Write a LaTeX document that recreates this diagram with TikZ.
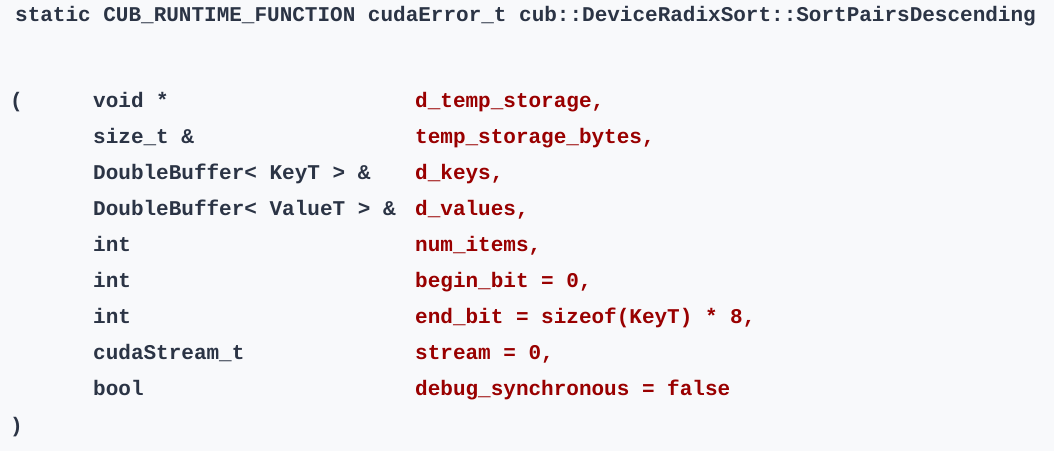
\documentclass[tikz,border=0pt]{standalone}
\usepackage{fontspec}
\setmonofont{Liberation Mono}
\definecolor{bg}{HTML}{F8F9FB}
\definecolor{txt}{HTML}{2B3445}
\definecolor{par}{HTML}{990000}
\begin{document}
\begin{tikzpicture}[x=1pt,y=-1pt,
  t/.style={anchor=base west,inner sep=0pt,font=\ttfamily\bfseries\fontsize{21}{21}\selectfont,text=txt},
  p/.style={t,text=par}]
\fill[bg] (0,0) rectangle (1054,451);
\useasboundingbox (0,0) rectangle (1054,451);
\node[t] (h) at (15,21) {static CUB\_RUNTIME\_FUNCTION cudaError\_t cub::DeviceRadixSort::SortPairsDescending};
\node[t] (lp) at (10,107) {(};
\node[t] (rp) at (10,432) {)};
\foreach \ty/\pn [count=\i] in {void */d\_temp\_storage{,},size\_t \&/temp\_storage\_bytes{,},DoubleBuffer< KeyT > \&/d\_keys{,},DoubleBuffer< ValueT > \&/d\_values{,},int/num\_items{,},int/begin\_bit = 0{,},int/end\_bit = sizeof(KeyT) * 8{,},cudaStream\_t/stream = 0{,},bool/debug\_synchronous = false}{
  \node[t] (ty\i) at (93,{71+36*\i}) {\ty};
  \node[p] (pn\i) at (415,{71+36*\i}) {\pn};
}
\end{tikzpicture}
\end{document}
